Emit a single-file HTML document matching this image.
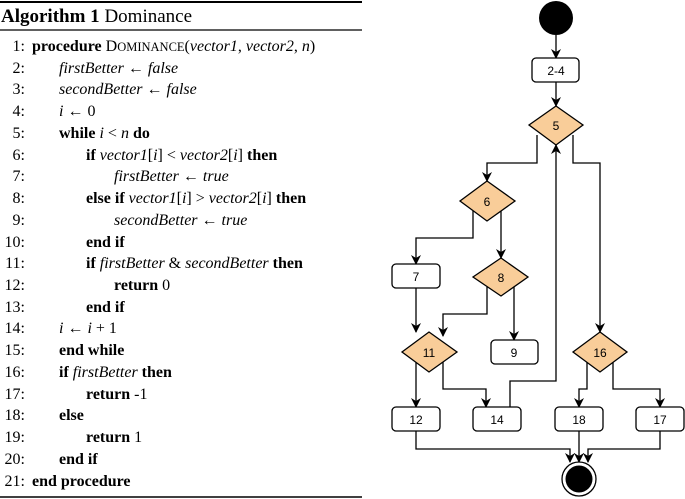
<!DOCTYPE html>
<html><head><meta charset="utf-8"><style>
html,body{margin:0;padding:0;background:#fff;}
svg{display:block;}
.a{font-family:"Liberation Serif",serif;font-size:16px;fill:#000;}
.b{font-weight:bold;}
.i{font-style:italic;}
.sc{font-size:12.5px;}
.n{font-family:"Liberation Sans",sans-serif;font-size:12px;fill:#000;text-anchor:middle;}
</style></head><body>
<svg width="685" height="499" viewBox="0 0 685 499" xmlns="http://www.w3.org/2000/svg">
<defs>
<marker id="ar" markerWidth="10" markerHeight="10" refX="9" refY="5" orient="auto" markerUnits="userSpaceOnUse">
<path d="M0,0 L10,5 L0,10 L3,5 Z" fill="#000"/>
</marker>
</defs>
<!-- algorithm -->
<line x1="0" y1="2" x2="362" y2="2" stroke="#000" stroke-width="2"/>
<text x="1" y="22" class="a" style="font-size:19px"><tspan class="b">Algorithm 1</tspan> Dominance</text>
<line x1="0" y1="30" x2="362" y2="30" stroke="#000" stroke-width="1.2"/>
<g class="a">
<text x="25" y="51" text-anchor="end">1:</text>
<text x="32" y="51"><tspan class="b">procedure</tspan> D<tspan class="sc">OMINANCE</tspan>(<tspan class="i">vector1</tspan>, <tspan class="i">vector2</tspan>, <tspan class="i">n</tspan>)</text>
<text x="25" y="73" text-anchor="end">2:</text>
<text x="59" y="73"><tspan class="i">firstBetter</tspan> ← <tspan class="i">false</tspan></text>
<text x="25" y="94" text-anchor="end">3:</text>
<text x="59" y="94"><tspan class="i">secondBetter</tspan> ← <tspan class="i">false</tspan></text>
<text x="25" y="116" text-anchor="end">4:</text>
<text x="59" y="116"><tspan class="i">i</tspan> ← 0</text>
<text x="25" y="138" text-anchor="end">5:</text>
<text x="59" y="138"><tspan class="b">while</tspan> <tspan class="i">i</tspan> &lt; <tspan class="i">n</tspan> <tspan class="b">do</tspan></text>
<text x="25" y="160" text-anchor="end">6:</text>
<text x="86" y="160"><tspan class="b">if</tspan> <tspan class="i">vector1</tspan>[<tspan class="i">i</tspan>] &lt; <tspan class="i">vector2</tspan>[<tspan class="i">i</tspan>] <tspan class="b">then</tspan></text>
<text x="25" y="181" text-anchor="end">7:</text>
<text x="114" y="181"><tspan class="i">firstBetter</tspan> ← <tspan class="i">true</tspan></text>
<text x="25" y="203" text-anchor="end">8:</text>
<text x="86" y="203"><tspan class="b">else if</tspan> <tspan class="i">vector1</tspan>[<tspan class="i">i</tspan>] &gt; <tspan class="i">vector2</tspan>[<tspan class="i">i</tspan>] <tspan class="b">then</tspan></text>
<text x="25" y="225" text-anchor="end">9:</text>
<text x="114" y="225"><tspan class="i">secondBetter</tspan> ← <tspan class="i">true</tspan></text>
<text x="25" y="247" text-anchor="end">10:</text>
<text x="86" y="247" class="b">end if</text>
<text x="25" y="268" text-anchor="end">11:</text>
<text x="86" y="268"><tspan class="b">if</tspan> <tspan class="i">firstBetter</tspan>  &amp;  <tspan class="i">secondBetter</tspan> <tspan class="b">then</tspan></text>
<text x="25" y="290" text-anchor="end">12:</text>
<text x="114" y="290"><tspan class="b">return</tspan> 0</text>
<text x="25" y="312" text-anchor="end">13:</text>
<text x="86" y="312" class="b">end if</text>
<text x="25" y="333" text-anchor="end">14:</text>
<text x="59" y="333"><tspan class="i">i</tspan> ← <tspan class="i">i</tspan> + 1</text>
<text x="25" y="355" text-anchor="end">15:</text>
<text x="59" y="355" class="b">end while</text>
<text x="25" y="377" text-anchor="end">16:</text>
<text x="59" y="377"><tspan class="b">if</tspan> <tspan class="i">firstBetter</tspan> <tspan class="b">then</tspan></text>
<text x="25" y="399" text-anchor="end">17:</text>
<text x="86" y="399"><tspan class="b">return</tspan> -1</text>
<text x="25" y="420" text-anchor="end">18:</text>
<text x="59" y="420" class="b">else</text>
<text x="25" y="442" text-anchor="end">19:</text>
<text x="86" y="442"><tspan class="b">return</tspan> 1</text>
<text x="25" y="464" text-anchor="end">20:</text>
<text x="59" y="464" class="b">end if</text>
<text x="25" y="486" text-anchor="end">21:</text>
<text x="32" y="486" class="b">end procedure</text>
</g>
<line x1="0" y1="497" x2="362" y2="497" stroke="#000" stroke-width="1.5"/>

<!-- flowchart -->
<g stroke="#000" stroke-width="1.3" fill="none" marker-end="url(#ar)">
<path d="M556,35 V58"/>
<path d="M556,82 V106"/>
<path d="M537,135 V163 H487 V181"/>
<path d="M573,135 V163 H600 V332"/>
<path d="M473,211 V238 H416 V264"/>
<path d="M501,211 V258"/>
<path d="M416,288 V332"/>
<path d="M487,287 V314 H443 V336"/>
<path d="M514,287 V340"/>
<path d="M416,362 V407"/>
<path d="M443,362 V389 H486 V407"/>
<path d="M510,407 V381 H556 V145"/>
<path d="M587,362 V389 H579 V407"/>
<path d="M613,362 V389 H660 V407"/>
<path d="M416,431 V449 H570 V462"/>
<path d="M579,431 V462"/>
<path d="M660,431 V449 H588 V462"/>
</g>
<circle cx="556" cy="18" r="17" fill="#000"/>
<circle cx="579" cy="479" r="17" fill="#fff" stroke="#000" stroke-width="1.3"/>
<circle cx="579" cy="479" r="13.5" fill="#000"/>
<g fill="#fff" stroke="#000" stroke-width="1.3">
<rect x="532" y="58" width="47" height="24" rx="4"/>
<rect x="392" y="264" width="48" height="24" rx="4"/>
<rect x="491" y="340" width="47" height="24" rx="4"/>
<rect x="392" y="407" width="48" height="24" rx="4"/>
<rect x="473" y="407" width="48" height="24" rx="4"/>
<rect x="555" y="407" width="48" height="24" rx="4"/>
<rect x="636" y="407" width="48" height="24" rx="4"/>
</g>
<g fill="#f9cd99" stroke="#000" stroke-width="1.3">
<path d="M556,106 L583,125 L556,145 L529,125 Z"/>
<path d="M487,181 L515,201 L487,221 L460,201 Z"/>
<path d="M501,258 L528,277 L501,296 L473,277 Z"/>
<path d="M429,332 L457,352 L429,372 L402,352 Z"/>
<path d="M600,332 L627,352 L600,372 L573,352 Z"/>
</g>
<g class="n">
<text x="556" y="75">2-4</text>
<text x="556" y="130">5</text>
<text x="487" y="206">6</text>
<text x="501" y="282">8</text>
<text x="429" y="357">11</text>
<text x="600" y="357">16</text>
<text x="416" y="281">7</text>
<text x="514" y="357">9</text>
<text x="416" y="424">12</text>
<text x="497" y="424">14</text>
<text x="579" y="424">18</text>
<text x="660" y="424">17</text>
</g>
</svg>
</body></html>
